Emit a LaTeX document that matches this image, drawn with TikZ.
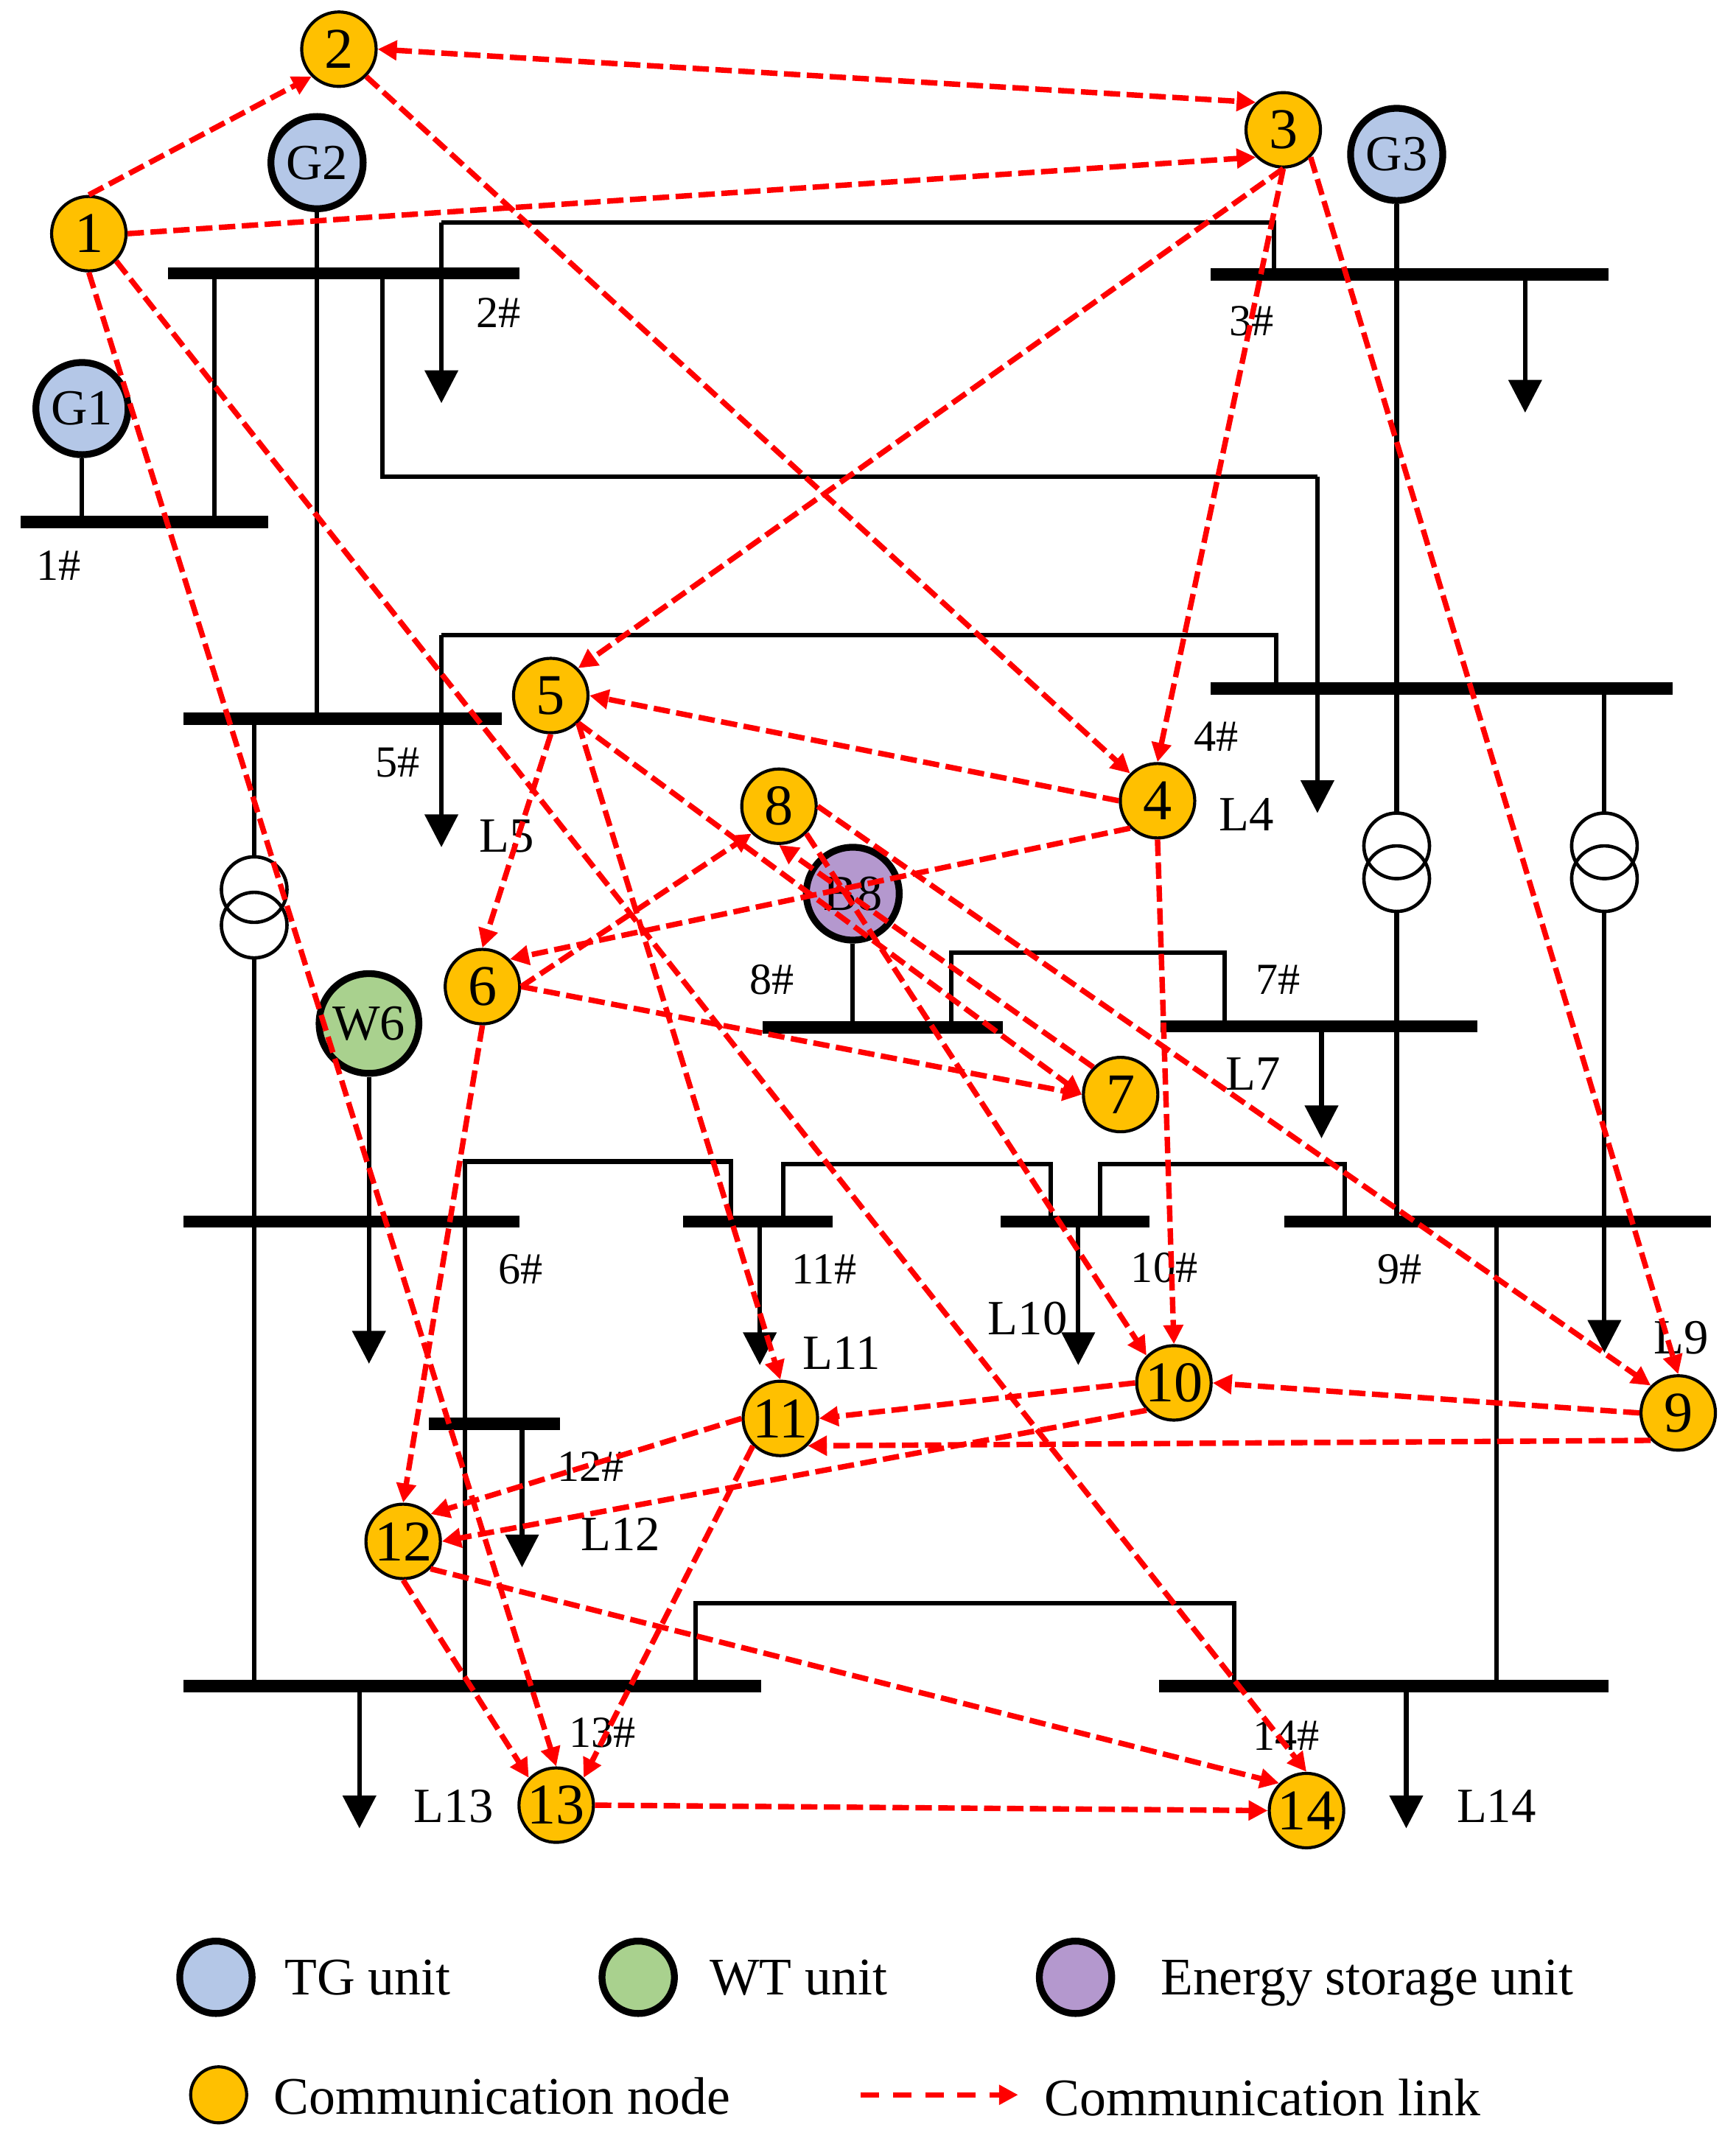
\documentclass[tikz,border=0pt]{standalone}
\usepackage{xcolor}
\usepackage{fontspec}
\setmainfont{Liberation Serif}
\usetikzlibrary{arrows.meta}
\definecolor{tgblue}{HTML}{B4C7E7}
\definecolor{wtgreen}{HTML}{A9D18E}
\definecolor{esviolet}{HTML}{B498CE}
\definecolor{commgold}{HTML}{FFC000}
\tikzset{
  wire/.style={line width=0.065cm,black},
  load/.style={wire,-{Triangle[length=0.48cm,width=0.48cm]}},
  busbar/.style={fill=black,inner sep=0pt,minimum height=0.18cm},
  unit/.style={circle,draw=black,line width=0.1cm,inner sep=0pt,minimum size=1.35cm,font=\fontsize{21}{23}\selectfont},
  comm/.style={circle,draw=black,line width=0.045cm,fill=commgold,inner sep=0pt,minimum size=1.09cm,font=\fontsize{24}{26}\selectfont},
  xfmr/.style={circle,draw=black,line width=0.05cm,inner sep=0pt,minimum size=0.96cm},
  link/.style={red,line width=0.08cm,dash pattern=on 0.24cm off 0.095cm,-{Triangle[length=0.28cm,width=0.28cm]}},
  busname/.style={font=\fontsize{18.5}{20}\selectfont},
  loadname/.style={font=\fontsize{20.5}{22}\selectfont},
  legendtext/.style={anchor=base west,inner sep=0pt,font=\fontsize{22}{24}\selectfont}
}
\begin{document}
\begin{tikzpicture}[x=0.02cm,y=-0.02cm]
\useasboundingbox (0,0) rectangle (1270,1569);
% buses
\foreach \n/\xa/\xb/\y in {1/15/196/382,2/123/380/200,3/886/1177/201,4/886/1224/504,5/134/367/526,
  6/134/380/894,7/849/1081/751,8/558/734/752,9/940/1252/894,10/732/841/894,11/500/609/894,
  12/314/410/1042,13/134/557/1234,14/848/1177/1234}
  \node[busbar,minimum width={(\xb-\xa)*0.02cm}] (bus\n) at ({(\xa+\xb)/2},\y) {};
% taps, corners and load ends
\foreach \n/\x/\y in {a1/157/200,a2/157/382,b1/280/200,b2/964/349,b3/964/595,c1/932/200,c2/323/163,c3/323/295,
  d1/1116/200,d2/1116/302,e1/934/503,e2/323/465,e3/323/620,f1/1174/503,f2/1174/595,f3/1174/667,f4/1174/990,
  g1/186/525,g2/186/628,g3/186/700,g4/186/1233,h1/1022/595,h2/1022/667,h3/1022/893,
  i1/340/1233,i2/535/850,i3/535/893,j1/573/893,j2/769/852,j3/769/893,k1/805/893,k2/984/852,k3/984/893,
  m1/556/893,m2/556/999,n1/789/893,n2/789/999,o1/696/751,o2/896/697,o3/896/750,p1/967/750,p2/967/833,
  q1/1095/893,q2/1095/1233,r1/382/1041,r2/382/1147,s1/509/1233,s2/903/1173,s3/903/1233,
  t1/263/1233,t2/263/1338,u1/1029/1233,u2/1029/1338,w1/270/998}
  \coordinate (\n) at (\x,\y);
% generators
\node[unit,fill=tgblue] (G1) at (60,299) {G1};
\node[unit,fill=tgblue] (G2) at (232,119) {G2};
\node[unit,fill=tgblue] (G3) at (1022,113) {G3};
\node[unit,fill=wtgreen,minimum size=1.46cm] (W6) at (270,749) {W6};
\node[unit,fill=esviolet,minimum size=1.36cm] (B8) at (624,654) {B8};
% transformers
\node[xfmr] (T1a) at (1022,619) {};
\node[xfmr] (T1b) at (1022,643) {};
\node[xfmr] (T2a) at (1174,619) {};
\node[xfmr] (T2b) at (1174,643) {};
\node[xfmr] (T3a) at (186,651) {};
\node[xfmr] (T3b) at (186,677) {};
% network
\draw[wire] (G1) -- (G1|-bus1);
\draw[wire] (G2) -- (G2|-bus5);
\draw[wire] (G3) -- (h1);
\draw[wire] (B8) -- (B8|-bus8);
\draw[load] (W6) -- (w1);
\draw[wire] (a1) -- (a2);
\draw[wire] (b1) |- (b2);
\draw[load] (b2) -- (b3);
\draw[wire] (c1) |- (c2);
\draw[load] (c2) -- (c3);
\draw[load] (d1) -- (d2);
\draw[wire] (e1) |- (e2);
\draw[load] (e2) -- (e3);
\draw[wire] (f1) -- (f2);
\draw[load] (f3) -- (f4);
\draw[wire] (g1) -- (g2);
\draw[wire] (g3) -- (g4);
\draw[wire] (h2) -- (h3);
\draw[wire] (i1) |- (i2) -- (i3);
\draw[wire] (j1) |- (j2) -- (j3);
\draw[wire] (k1) |- (k2) -- (k3);
\draw[load] (m1) -- (m2);
\draw[load] (n1) -- (n2);
\draw[wire] (o1) |- (o2) -- (o3);
\draw[load] (p1) -- (p2);
\draw[wire] (q1) -- (q2);
\draw[load] (r1) -- (r2);
\draw[wire] (s1) |- (s2) -- (s3);
\draw[load] (t1) -- (t2);
\draw[load] (u1) -- (u2);
% bus and load names
\foreach \n/\t/\x/\y in {n1/1\#/43/414,n2/2\#/365/229,n3/3\#/916/235,n4/4\#/890/539,n5/5\#/291/558,
  n6/6\#/381/929,n7/7\#/935/717,n8/8\#/565/717,n9/9\#/1024/929,n10/10\#/852/928,n11/11\#/603/929,
  n12/12\#/432/1073,n13/13\#/441/1268,n14/14\#/941/1270}
  \node[busname] (name\n) at (\x,\y) {\t};
\foreach \n/\x/\y in {4/912/596,5/371/612,7/917/786,9/1230/979,10/752/965,11/616/990,12/454/1123,13/332/1322,14/1095/1322}
  \node[loadname] (L\n) at (\x,\y) {L\n};
% communication nodes
\foreach \n/\x/\y in {1/65/171,2/248/36,3/939/95,4/847/586,5/403/509,6/353/722,7/820/801,8/570/590,
  9/1228/1034,10/859/1012,11/571/1038,12/295/1128,13/407/1321,14/956/1325}
  \node[comm] (cn\n) at (\x,\y) {\n};
% communication links, from one of eight sites on a node to one on the next
\foreach \a/\sa/\b/\sb in {1/90/2/225,1/0/3/225,1/-90/13/90,1/-45/14/90,2/-45/4/135,3/-90/4/90,3/-90/5/45,
  3/-45/9/90,4/180/5/0,4/225/6/45,4/-90/10/90,5/-90/6/90,5/-45/7/180,5/-45/11/90,6/0/7/180,6/0/8/225,
  6/-90/12/90,7/135/8/-90,8/0/9/135,8/-45/10/135,9/180/10/0,9/225/11/-45,10/180/11/0,10/225/12/0,
  11/180/12/45,11/225/13/45,12/-90/13/135,12/-45/14/135,13/0/14/180}
  \draw[link] (cn\a.\sa) -- (cn\b.\sb);
\draw[link,{Triangle[length=0.28cm,width=0.28cm]}-{Triangle[length=0.28cm,width=0.28cm]}] (cn2.east) -- (cn3.135);
% legend
\node[unit,fill=tgblue,minimum size=1.06cm] (keyTG) at (158,1447) {};
\node[legendtext] (textTG) at (208,1460) {TG unit};
\node[unit,fill=wtgreen,minimum size=1.06cm] (keyWT) at (467,1447) {};
\node[legendtext] (textWT) at (519,1460) {WT unit};
\node[unit,fill=esviolet,minimum size=1.06cm] (keyES) at (787,1447) {};
\node[legendtext] (textES) at (849,1460) {Energy storage unit};
\node[comm,minimum size=0.82cm] (keyC) at (160,1533) {};
\node[legendtext] (textC) at (200,1547) {Communication node};
\coordinate (keyLa) at (630,1533);
\coordinate (keyLb) at (745,1533);
\draw[link,dash pattern=on 0.27cm off 0.2cm] (keyLa) -- (keyLb);
\node[legendtext] (textL) at (764,1548) {Communication link};
\end{tikzpicture}
\end{document}
